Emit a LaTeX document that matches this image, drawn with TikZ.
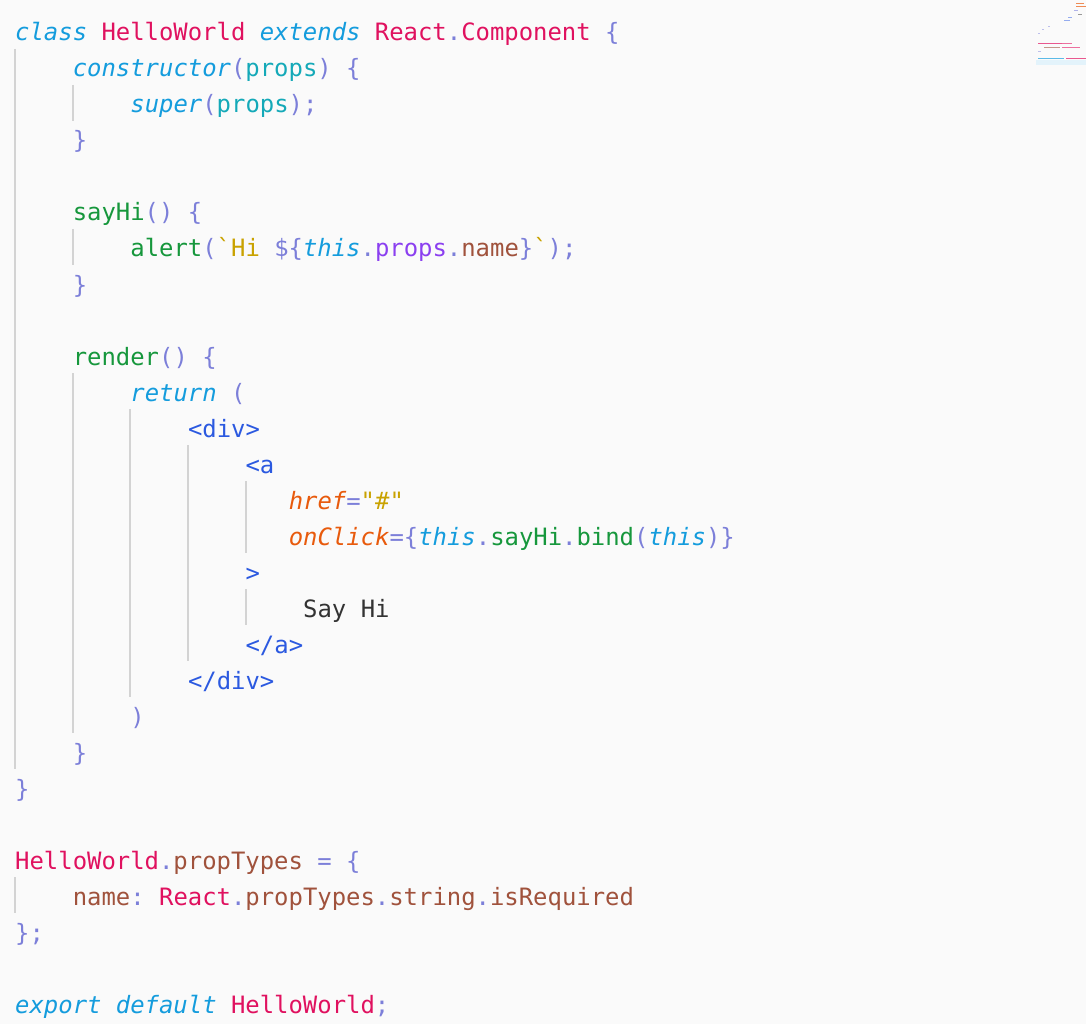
\documentclass[tikz,border=0pt]{standalone}
\usepackage{fontspec}
\setmainfont{DejaVu Sans Mono}[WordSpace={1,0,0},Ligatures=TeXOff]
\frenchspacing
\definecolor{bg}{HTML}{FAFAFA}
\definecolor{ckw}{HTML}{149CDD}
\definecolor{cred}{HTML}{E0115F}
\definecolor{cpu}{HTML}{7C7FD9}
\definecolor{cteal}{HTML}{14A9B8}
\definecolor{cgreen}{HTML}{16973C}
\definecolor{cyel}{HTML}{C9A200}
\definecolor{cpur}{HTML}{8B3FF0}
\definecolor{cbrn}{HTML}{A0523C}
\definecolor{ctag}{HTML}{2B59E0}
\definecolor{corg}{HTML}{E85A0C}
\definecolor{ctxt}{HTML}{333333}
\definecolor{guide}{HTML}{D3D3D3}
\newcommand{\K}[1]{\textcolor{ckw}{\itshape #1}}
\newcommand{\R}[1]{\textcolor{cred}{#1}}
\newcommand{\Pu}[1]{\textcolor{cpu}{#1}}
\newcommand{\T}[1]{\textcolor{cteal}{#1}}
\newcommand{\G}[1]{\textcolor{cgreen}{#1}}
\newcommand{\Y}[1]{\textcolor{cyel}{#1}}
\newcommand{\U}[1]{\textcolor{cpur}{#1}}
\newcommand{\B}[1]{\textcolor{cbrn}{#1}}
\newcommand{\Tg}[1]{\textcolor{ctag}{#1}}
\newcommand{\Or}[1]{\textcolor{corg}{\itshape #1}}
\begin{document}
\begin{tikzpicture}[x=1pt,y=-1pt,
  code/.style={anchor=base west,inner sep=0pt,font=\fontsize{23.9}{28}\selectfont\frenchspacing,text=ctxt},
  gd/.style={draw=guide,line width=1.5pt}]
\fill[bg] (0,0) rectangle (1086,1024);
\useasboundingbox (0,0) rectangle (1086,1024);
% guides
\draw[gd] (15,49) -- (15,769);
\draw[gd] (15,877) -- (15,913);
\draw[gd] (73,85) -- (73,121);
\draw[gd] (73,229) -- (73,265);
\draw[gd] (73,373) -- (73,733);
\draw[gd] (130,409) -- (130,697);
\draw[gd] (188,445) -- (188,661);
\draw[gd] (246,481) -- (246,553);
\draw[gd] (246,589) -- (246,625);
% code lines
\def\cw{14.4}
\newcommand{\Ln}[3]{\node[code] (l#1) at ({15+\cw*#2},{41+36*(#1-1)}) {#3};}
\Ln{1}{0}{\K{class} \R{HelloWorld} \K{extends} \R{React}\Pu{.}\R{Component} \Pu{\{}}
\Ln{2}{4}{\K{constructor}\Pu{(}\T{props}\Pu{)} \Pu{\{}}
\Ln{3}{8}{\K{super}\Pu{(}\T{props}\Pu{);}}
\Ln{4}{4}{\Pu{\}}}
\Ln{6}{4}{\G{sayHi}\Pu{()} \Pu{\{}}
\Ln{7}{8}{\G{alert}\Pu{(}\Y{\char"60Hi }\Pu{\$\{}\K{this}\Pu{.}\U{props}\Pu{.}\B{name}\Pu{\}}\Y{\char"60}\Pu{);}}
\Ln{8}{4}{\Pu{\}}}
\Ln{10}{4}{\G{render}\Pu{()} \Pu{\{}}
\Ln{11}{8}{\K{return} \Pu{(}}
\Ln{12}{12}{\Tg{<div>}}
\Ln{13}{16}{\Tg{<a}}
\Ln{14}{19}{\Or{href}\Pu{=}\Y{\char"22\#\char"22}}
\Ln{15}{19}{\Or{onClick}\Pu{=\{}\K{this}\Pu{.}\G{sayHi}\Pu{.}\G{bind}\Pu{(}\K{this}\Pu{)\}}}
\Ln{16}{16}{\Tg{>}}
\Ln{17}{20}{Say Hi}
\Ln{18}{16}{\Tg{</a>}}
\Ln{19}{12}{\Tg{</div>}}
\Ln{20}{8}{\Pu{)}}
\Ln{21}{4}{\Pu{\}}}
\Ln{22}{0}{\Pu{\}}}
\Ln{24}{0}{\R{HelloWorld}\Pu{.}\B{propTypes} \Pu{= \{}}
\Ln{25}{4}{\B{name}\Pu{:} \R{React}\Pu{.}\B{propTypes}\Pu{.}\B{string}\Pu{.}\B{isRequired}}
\Ln{26}{0}{\Pu{\};}}
\Ln{28}{0}{\K{export} \K{default} \R{HelloWorld}\Pu{;}}
% minimap
\fill[ckw!12] (1036,60) rectangle (1086,65);
\begin{scope}[line width=0.8pt]
\draw[corg!70] (1076,3) -- (1084,3);
\draw[corg!70] (1076,6) -- (1086,6);
\draw[cpu!60] (1074,10) -- (1078,10);
\draw[ctxt!50] (1078,14) -- (1082,14);
\draw[ctag!50] (1068,17) -- (1072,17);
\draw[ctag!50] (1064,20) -- (1070,20);
\draw[cpu!50] (1048,26) -- (1050,26);
\draw[cpu!50] (1042,29) -- (1044,29);
\draw[cpu!50] (1038,33) -- (1040,33);
\draw[cred!70] (1038,43) -- (1062,43);
\draw[cred!60] (1062,43) -- (1072,43);
\draw[cbrn!60] (1044,47) -- (1060,47);
\draw[cred!60] (1062,47) -- (1080,47);
\draw[cpu!50] (1038,51) -- (1041,51);
\draw[ckw!70] (1038,58) -- (1064,58);
\draw[cred!70] (1066,58) -- (1086,58);
\end{scope}
\end{tikzpicture}
\end{document}
